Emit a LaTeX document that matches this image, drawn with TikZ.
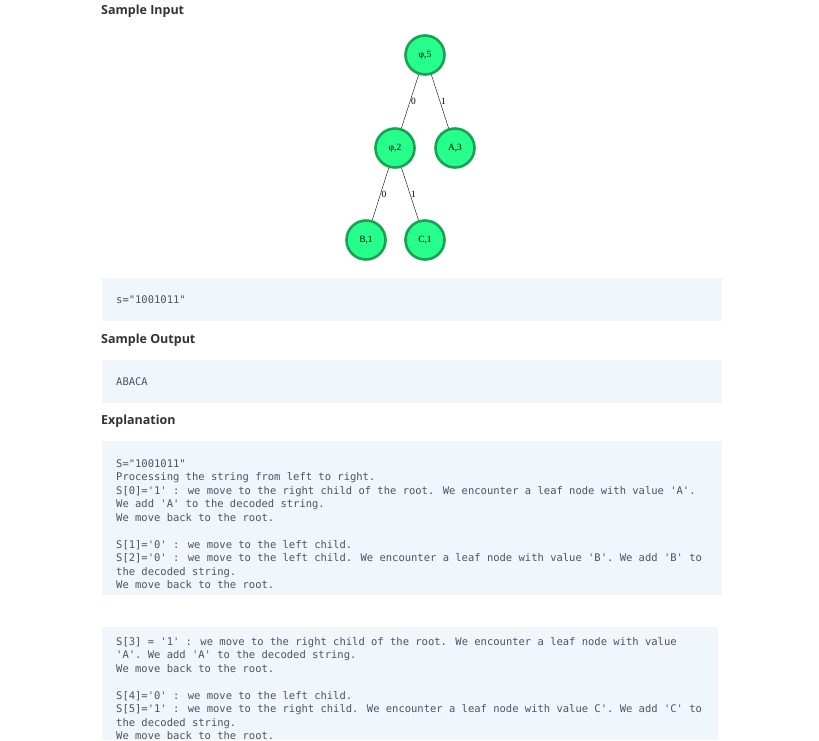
\documentclass[tikz,border=0pt]{standalone}
\usepackage{fontspec}
\setmainfont{Liberation Serif}
\newfontfamily\headfont{Open Sans}
\newfontfamily\codefont{DejaVu Sans Mono}
\definecolor{boxbg}{HTML}{F0F6FB}
\definecolor{nodefill}{HTML}{26FF8C}
\definecolor{nodeline}{HTML}{17A352}
\definecolor{headc}{HTML}{333333}
\definecolor{codec}{HTML}{4A5560}
\begin{document}
\begin{tikzpicture}[x=1pt,y=-1pt,
  tnode/.style={circle,draw=nodeline,fill=nodefill,line width=2.6pt,minimum size=39pt,inner sep=0pt,font=\fontsize{9.5}{11}\selectfont},
  heading/.style={anchor=base west,inner sep=0pt,text=headc,font=\headfont\fontsize{12.5}{15}\selectfont\bfseries},
  codeline/.style={anchor=base west,inner sep=0pt,text=codec,font=\codefont\fontsize{10.5}{12}\selectfont},
  elabel/.style={font=\fontsize{9.5}{11}\selectfont,inner sep=1pt}]
\useasboundingbox (0,0) rectangle (819,740);
\fill[white] (0,0) rectangle (819,740);
\node[heading] (h1) at (101,14) {Sample Input};
\node[tnode] (r) at (425,55) {φ,5};
\node[tnode] (p) at (395,148) {φ,2};
\node[tnode] (a) at (455,148) {A,3};
\node[tnode] (b) at (366,240) {B,1};
\node[tnode] (c) at (425,240) {C,1};
\draw (r) -- node[elabel,right] {0} (p);
\draw (r) -- node[elabel,right] {1} (a);
\draw (p) -- node[elabel,right] {0} (b);
\draw (p) -- node[elabel,right] {1} (c);
\fill[boxbg] (102,278) rectangle (722,321);
\node[codeline] (s1) at (116,303) {s="1001011"};
\node[heading] (h2) at (101,343) {Sample Output};
\fill[boxbg] (102,360) rectangle (722,403);
\node[codeline] (o1) at (116,385) {ABACA};
\node[heading] (h3) at (101,424) {Explanation};
\fill[boxbg] (102,441) rectangle (722,595);
\node[codeline] at (116,467) {S="1001011"};
\node[codeline] at (116,480.5) {Processing the string from left to right.};
\node[codeline] at (116,494) {S[0]='1' : we move to the right child of the root. We encounter a leaf node with value 'A'.};
\node[codeline] at (116,507.5) {We add 'A' to the decoded string.};
\node[codeline] at (116,521) {We move back to the root.};
\node[codeline] at (116,548) {S[1]='0' : we move to the left child.};
\node[codeline] at (116,561.5) {S[2]='0' : we move to the left child. We encounter a leaf node with value 'B'. We add 'B' to};
\node[codeline] at (116,575) {the decoded string.};
\node[codeline] at (116,588.5) {We move back to the root.};
\fill[boxbg] (102,627) rectangle (718,740);
\node[codeline] at (116,645) {S[3] = '1' : we move to the right child of the root. We encounter a leaf node with value};
\node[codeline] at (116,658.5) {'A'. We add 'A' to the decoded string.};
\node[codeline] at (116,672) {We move back to the root.};
\node[codeline] at (116,699) {S[4]='0' : we move to the left child.};
\node[codeline] at (116,712.5) {S[5]='1' : we move to the right child. We encounter a leaf node with value C'. We add 'C' to};
\node[codeline] at (116,726) {the decoded string.};
\node[codeline] at (116,739.5) {We move back to the root.};
\end{tikzpicture}
\end{document}
